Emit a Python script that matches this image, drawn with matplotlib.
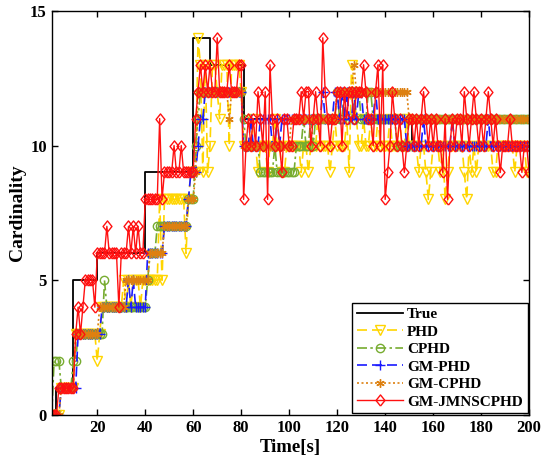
import numpy as np
import matplotlib
matplotlib.use("Agg")
import matplotlib.pyplot as plt

# ---------------- data (t = 1..200) ----------------
time_s = list(range(1, 201))

true_card = ([0]*2 + [1]*7 + [5]*10 + [6]*20 + [9]*20 + [14]*7 + [13]*14
             + [11]*70 + [10]*50)

phd = [
    0,0,0,0,1,1,1,1,1,1,
    3,3,3,3,3,3,3,3,3,2,
    3,4,4,4,4,4,4,4,4,4,
    5,4,5,4,5,5,5,4,5,5,
    5,5,5,5,5,8,5,8,8,8,
    8,8,8,8,8,8,6,8,9,9,
    9,14,13,9,13,9,10,13,13,12,
    11,13,13,13,10,13,13,13,13,12,
    10,10,10,10,11,10,9,10,10,10,
    9,10,10,11,10,10,9,9,10,10,
    10,10,10,10,9,10,10,9,10,10,
    10,11,10,10,10,10,9,10,11,10,
    10,10,10,11,9,13,12,11,10,10,
    11,10,10,11,10,10,11,10,10,10,
    10,11,10,10,10,11,10,10,11,10,
    10,10,10,9,10,10,9,8,9,10,
    10,10,9,10,8,9,10,10,10,10,
    10,10,9,8,10,9,10,9,10,10,
    10,10,10,10,9,9,10,10,10,10,
    10,10,10,9,10,10,10,10,9,9,
]

cphd = [
    0,2,2,2,1,1,1,1,1,2,
    2,3,3,3,3,3,3,3,3,3,
    3,3,5,4,4,4,4,4,4,4,
    4,4,4,4,4,4,4,4,4,4,
    5,6,6,6,7,7,7,7,7,7,
    7,7,7,7,7,7,7,8,8,8,
    10,11,12,12,12,12,12,12,12,12,
    12,12,12,12,12,12,12,12,12,12,
    11,10,10,10,10,10,10,9,9,9,
    9,9,9,10,9,9,9,9,9,9,
    9,9,10,10,10,11,10,10,11,10,
    11,11,11,11,11,11,11,11,11,12,
    11,11,12,12,12,12,11,12,12,11,
    11,11,12,12,11,11,11,11,11,11,
    11,11,11,11,10,10,10,10,10,11,
    11,11,11,11,11,11,11,11,11,11,
    11,11,11,11,11,11,11,11,11,11,
    11,11,11,11,11,11,11,11,11,11,
    11,11,11,11,11,11,11,11,11,11,
    11,11,11,11,11,11,11,11,11,11,
]

gm_phd = [
    0,0,0,0,1,1,1,1,1,1,
    1,3,3,3,3,3,3,3,3,3,
    3,4,4,4,4,4,4,4,4,4,
    4,4,5,4,5,4,4,4,4,4,
    6,6,6,6,6,6,6,7,7,7,
    7,7,7,7,7,7,7,8,9,9,
    9,10,11,11,12,12,12,12,12,12,
    12,12,12,12,12,12,12,12,12,12,
    10,10,10,11,10,10,10,11,11,11,
    11,11,10,10,11,10,11,11,11,11,
    11,11,11,11,11,11,11,11,11,11,
    11,11,11,12,11,11,11,11,12,12,
    11,12,11,12,11,11,12,11,12,12,
    11,11,11,11,11,12,11,11,11,11,
    11,11,11,11,11,11,11,11,10,10,
    10,10,10,10,10,11,10,10,10,10,
    10,10,10,10,10,10,10,11,10,10,
    10,10,10,10,10,10,10,10,10,10,
    10,10,11,10,10,10,10,10,10,10,
    10,10,10,10,10,10,10,10,10,10,
]

gm_cphd = [
    0,0,0,0,1,1,1,1,1,1,
    3,3,3,3,3,3,3,3,3,3,
    4,4,4,4,4,4,4,4,4,4,
    4,5,5,5,5,5,5,5,5,5,
    5,6,6,6,6,6,6,7,7,7,
    7,7,7,7,7,7,7,8,8,8,
    9,12,12,12,12,12,12,12,12,12,
    12,12,12,12,11,12,12,12,12,12,
    10,10,10,10,10,10,10,10,10,10,
    10,10,10,10,10,10,10,10,10,10,
    11,11,11,11,11,11,11,11,11,11,
    11,11,11,11,11,11,11,11,11,12,
    12,12,12,12,12,12,13,12,12,12,
    12,12,12,12,12,12,12,12,12,12,
    12,12,12,12,12,12,12,12,12,11,
    11,11,11,11,11,11,11,11,11,11,
    11,11,11,11,11,11,11,11,11,11,
    11,11,11,11,11,11,11,11,11,11,
    11,11,11,11,11,11,11,11,11,11,
    11,11,11,11,11,11,11,11,11,11,
]

gm_jmnscphd = [
    0,0,0,1,1,1,1,1,1,1,
    3,4,3,4,5,5,5,5,4,6,
    6,6,6,7,6,6,6,6,4,6,
    6,6,7,6,7,6,7,6,6,8,
    8,8,8,8,8,11,8,9,9,9,
    9,10,9,9,10,9,9,9,9,9,
    11,12,13,12,13,12,13,12,12,14,
    12,12,12,12,13,12,12,12,13,13,
    8,10,11,10,11,10,12,11,10,12,
    8,13,11,10,11,10,9,11,11,10,
    10,11,11,11,12,11,12,12,10,11,
    12,11,10,14,12,11,10,11,11,12,
    12,10,12,11,12,12,11,12,12,12,
    13,12,11,11,10,12,13,10,13,8,
    9,10,12,11,10,11,10,9,10,11,
    11,10,11,10,11,12,11,10,11,10,
    11,10,10,9,11,8,10,11,10,11,
    11,10,12,11,10,11,12,11,10,11,
    10,11,12,11,10,11,10,9,10,10,
    10,11,10,10,10,10,9,10,10,9,
]

labels = ["True", "PHD", "CPHD", "GM-PHD", "GM-CPHD", "GM-JMNSCPHD"]

# ---------------- plotting ----------------
plt.rcParams['font.family'] = ['Liberation Serif', 'DejaVu Serif']
plt.rcParams['font.weight'] = 'bold'

fig = plt.figure(figsize=(5.5, 4.72), dpi=100)
ax = fig.add_axes([0.094, 0.121, 0.868, 0.856])

diamond = [(0, -1), (0.8, 0), (0, 1), (-0.8, 0), (0, -1)]

ax.plot(time_s, true_card, color='black', lw=1.3, drawstyle='steps-post', label=labels[0])
ax.plot(time_s, phd, color='#FFD500', lw=1.2, ls=(0, (6, 3)), marker='v', ms=7,
        mfc='none', mec='#FFD500', mew=1.0, label=labels[1])
ax.plot(time_s, cphd, color='#77AC30', lw=1.2, ls=(0, (6, 2, 1.5, 2)), marker='o', ms=6,
        mfc='none', mec='#77AC30', mew=1.0, label=labels[2])
ax.plot(time_s, gm_phd, color='#1A1AFF', lw=1.2, ls=(0, (6, 3)), marker='+', ms=7,
        mew=1.0, label=labels[3])
ax.plot(time_s, gm_cphd, color='#DD8010', lw=1.2, ls=(0, (1.2, 1.5)), marker=(6, 2, 0), ms=6,
        mew=1.0, label=labels[4])
ax.plot(time_s, gm_jmnscphd, color='#FF1010', lw=1.0, ls='-', marker=diamond, ms=8,
        mfc='none', mec='#FF1010', mew=1.0, label=labels[5])

ax.set_xlim(1, 200)
ax.set_ylim(0, 15)
ax.set_xticks([20, 40, 60, 80, 100, 120, 140, 160, 180, 200])
ax.set_yticks([0, 5, 10, 15])
ax.tick_params(direction='in', top=True, right=True, labelsize=12, length=4, width=1)
for lab in ax.get_xticklabels() + ax.get_yticklabels():
    lab.set_fontweight('bold')
for sp in ax.spines.values():
    sp.set_linewidth(1.0)

ax.set_xlabel('Time[s]', fontsize=13.5, fontweight='bold', labelpad=2)
ax.set_ylabel('Cardinality', fontsize=14, fontweight='bold', labelpad=3)

leg = ax.legend(loc='lower right', frameon=True, fancybox=False,
                edgecolor='black', framealpha=1, borderaxespad=0.1,
                handlelength=3.0, handletextpad=0.3, labelspacing=0.25,
                borderpad=0.3, prop={'weight': 'bold', 'size': 11})
leg.get_frame().set_linewidth(1.0)

fig.savefig('out.png', dpi=100)
